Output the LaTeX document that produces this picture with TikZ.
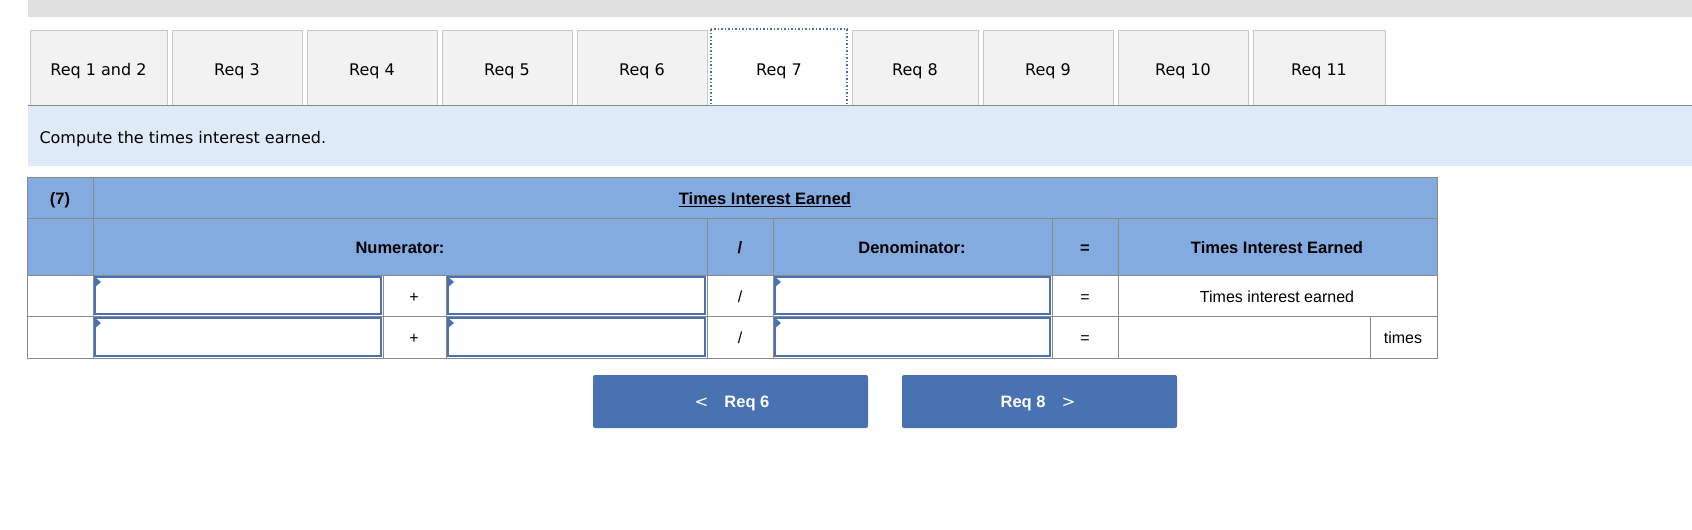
\documentclass[tikz,border=0pt]{standalone}
\usepackage{fontspec}
\setmainfont{Liberation Sans}
\newfontfamily\tabfont{DejaVu Sans}
\usetikzlibrary{positioning}
\definecolor{tabgray}{HTML}{F2F2F2}
\definecolor{tabline}{HTML}{C8C8C8}
\definecolor{bandblue}{HTML}{DEEAF7}
\definecolor{headblue}{HTML}{84ABDF}
\definecolor{inblue}{HTML}{4A72B0}
\definecolor{btnblue}{HTML}{4872B2}
\definecolor{gridgray}{HTML}{8A8A8A}
\tikzset{
  tabbox/.style={draw=tabline, fill=tabgray, line width=1pt},
  headcell/.style={draw=gridgray, fill=headblue, line width=1pt},
  bodycell/.style={draw=gridgray, fill=white, line width=1pt},
  inbox/.style={draw=inblue, fill=white, line width=2pt},
  even/.style={text height=0.72em, text depth=0.0em, yshift=-3pt},
  tabtext/.style={even, font=\tabfont\fontsize{16}{18}\selectfont},
  celltext/.style={even, font=\fontsize{16}{18}\selectfont},
  boldtext/.style={even, font=\bfseries\fontsize{16.5}{18}\selectfont}
}
\newcommand{\inputcell}[4]{% x1 y1 x2 y2
  \draw[inbox] (#1+2,#2+2) rectangle (#3-2,#4-2);
  \fill[inblue] (#1+1,#2+1) -- (#1+8,#2+7) -- (#1+1,#2+13) -- cycle;}
\begin{document}
\begin{tikzpicture}[x=1pt,y=-1pt]
\useasboundingbox (0,0) rectangle (1692,530);
% top bar
\fill[black!12] (28,0) rectangle (1692,17);
% tabs
\foreach \xa/\xb/\lbl in {30/167/Req 1 and 2,172/302/Req 3,307/437/Req 4,442/572/Req 5,577/707/Req 6,852/978/Req 8,983/1113/Req 9,1118/1248/Req 10,1253/1385/Req 11}{
  \draw[tabbox] (\xa,30) rectangle (\xb,105);
  \node[tabtext] at ({(\xa+\xb)/2},69) {\lbl};
}
\draw[inblue, line width=1.5pt, dotted] (711,29) rectangle (847,107);
\node[tabtext] (tab7) at (779,69) {Req 7};
% prompt band
\fill[bandblue] (28,106) rectangle (1692,166);
\draw[gridgray] (28,105.5) -- (1692,105.5);
\node[tabtext, anchor=west] (prompt) at (36,137) {Compute the times interest earned.};
% table header
\draw[headcell] (27,177) rectangle (93,218);
\draw[headcell] (93,177) rectangle (1437,218);
\node[boldtext] (num7) at (60,198) {(7)};
\node[boldtext] (title) at (765,198) {\underline{Times Interest Earned}};
\foreach \xa/\xb in {27/93,93/707,707/773,773/1052,1052/1118,1118/1437}
  \draw[headcell] (\xa,218) rectangle (\xb,275);
\node[boldtext] (numer) at (400,247) {Numerator:};
\node[boldtext] (slash) at (740,247) {/};
\node[boldtext] (denom) at (912,247) {Denominator:};
\node[boldtext] (equal) at (1085,247) {=};
\node[boldtext] (result) at (1277,247) {Times Interest Earned};
% body rows
\foreach \ya/\yb in {275/316,316/358}{
  \foreach \xa/\xb in {27/93,93/383,383/446,446/707,707/773,773/1052,1052/1118,1118/1437}
    \draw[bodycell] (\xa,\ya) rectangle (\xb,\yb);
  \inputcell{93}{\ya}{383}{\yb}
  \inputcell{446}{\ya}{707}{\yb}
  \inputcell{773}{\ya}{1052}{\yb}
  \node[celltext] at (414,{(\ya+\yb)/2}) {+};
  \node[celltext] at (740,{(\ya+\yb)/2}) {/};
  \node[celltext] at (1085,{(\ya+\yb)/2}) {=};
}
\node[celltext] (tie) at (1277,296) {Times interest earned};
\draw[bodycell] (1370,316) rectangle (1437,358);
\node[celltext] (times) at (1403,337) {times};
% buttons
\fill[btnblue, rounded corners=2pt] (593,375) rectangle (868,428);
\fill[btnblue, rounded corners=2pt] (902,375) rectangle (1177,428);
\node[boldtext, text=white] (prev) at (732,401) {\tabfont\mdseries<\hspace{16pt}\bfseries\rmfamily Req 6};
\node[boldtext, text=white] (next) at (1038,401) {Req 8\hspace{16pt}\tabfont\mdseries>};
\end{tikzpicture}
\end{document}
